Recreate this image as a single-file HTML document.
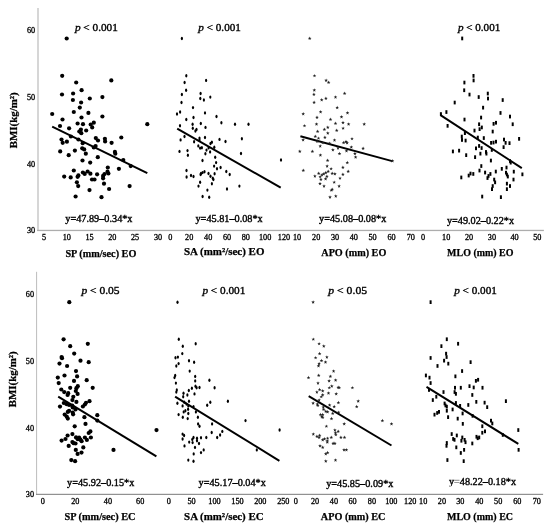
<!DOCTYPE html>
<html><head><meta charset="utf-8"><title>BMI scatter plots</title>
<style>
html,body{margin:0;padding:0;background:#fff;}
svg{display:block;}
text{font-family:"Liberation Serif",serif;fill:#000;}
text.tk{stroke:#000;stroke-width:0.34px;}
text.bd{stroke:#000;stroke-width:0.25px;}
</style></head><body>
<svg width="550" height="529" viewBox="0 0 550 529">
<defs>
<path id="st" fill="#222" d="M0-1.9L0.47-0.65L1.81-0.59L0.76 0.25L1.12 1.54L0 0.8L-1.12 1.54L-0.76 0.25L-1.81-0.59L-0.47-0.65Z"/>
<ellipse id="di" cx="0" cy="0" rx="1.1" ry="1.7" fill="#000"/>
<clipPath id="cy"><rect x="440" y="470" width="90" height="16.3"/></clipPath>
</defs>
<rect width="550" height="529" fill="#fff"/>
<rect x="37.1" y="8" width="1.8" height="223" fill="#d2d2d2"/>
<rect x="37.1" y="229.8" width="506.8" height="1.3" fill="#adadad"/>
<rect x="36" y="271.8" width="1.1" height="223" fill="#c2c2c2"/>
<rect x="36" y="493.8" width="507.1" height="1.1" fill="#858585"/>
<text x="35.2" y="233.4" font-size="9.2" text-anchor="end" textLength="8.2" lengthAdjust="spacingAndGlyphs" class="tk">30</text>
<text x="35.2" y="166.6" font-size="9.2" text-anchor="end" textLength="8.2" lengthAdjust="spacingAndGlyphs" class="tk">40</text>
<text x="35.2" y="99.8" font-size="9.2" text-anchor="end" textLength="8.2" lengthAdjust="spacingAndGlyphs" class="tk">50</text>
<text x="35.2" y="33.0" font-size="9.2" text-anchor="end" textLength="8.2" lengthAdjust="spacingAndGlyphs" class="tk">60</text>
<text x="34.0" y="497.3" font-size="9.2" text-anchor="end" textLength="8.2" lengthAdjust="spacingAndGlyphs" class="tk">30</text>
<text x="34.0" y="430.5" font-size="9.2" text-anchor="end" textLength="8.2" lengthAdjust="spacingAndGlyphs" class="tk">40</text>
<text x="34.0" y="363.7" font-size="9.2" text-anchor="end" textLength="8.2" lengthAdjust="spacingAndGlyphs" class="tk">50</text>
<text x="34.0" y="296.9" font-size="9.2" text-anchor="end" textLength="8.2" lengthAdjust="spacingAndGlyphs" class="tk">60</text>
<text transform="translate(17,120.3) rotate(-90)" font-size="11" font-weight="bold" class="bd" text-anchor="middle" textLength="56" lengthAdjust="spacingAndGlyphs">BMI(kg/m²)</text>
<text transform="translate(15.6,379.3) rotate(-90)" font-size="11" font-weight="bold" class="bd" text-anchor="middle" textLength="56" lengthAdjust="spacingAndGlyphs">BMI(kg/m²)</text>
<text x="44" y="239.9" font-size="9.2" text-anchor="middle" textLength="4.1" lengthAdjust="spacingAndGlyphs" class="tk">5</text>
<text x="66.8" y="239.9" font-size="9.2" text-anchor="middle" textLength="8.2" lengthAdjust="spacingAndGlyphs" class="tk">10</text>
<text x="89.5" y="239.9" font-size="9.2" text-anchor="middle" textLength="8.2" lengthAdjust="spacingAndGlyphs" class="tk">15</text>
<text x="112.3" y="239.9" font-size="9.2" text-anchor="middle" textLength="8.2" lengthAdjust="spacingAndGlyphs" class="tk">20</text>
<text x="135.1" y="239.9" font-size="9.2" text-anchor="middle" textLength="8.2" lengthAdjust="spacingAndGlyphs" class="tk">25</text>
<text x="158" y="239.9" font-size="9.2" text-anchor="middle" textLength="8.2" lengthAdjust="spacingAndGlyphs" class="tk">30</text>
<text x="170.2" y="239.9" font-size="9.2" text-anchor="middle" textLength="4.1" lengthAdjust="spacingAndGlyphs" class="tk">0</text>
<text x="189.2" y="239.9" font-size="9.2" text-anchor="middle" textLength="8.2" lengthAdjust="spacingAndGlyphs" class="tk">20</text>
<text x="208.2" y="239.9" font-size="9.2" text-anchor="middle" textLength="8.2" lengthAdjust="spacingAndGlyphs" class="tk">40</text>
<text x="227.1" y="239.9" font-size="9.2" text-anchor="middle" textLength="8.2" lengthAdjust="spacingAndGlyphs" class="tk">60</text>
<text x="245.8" y="239.9" font-size="9.2" text-anchor="middle" textLength="8.2" lengthAdjust="spacingAndGlyphs" class="tk">80</text>
<text x="265.1" y="239.9" font-size="9.2" text-anchor="middle" textLength="12.3" lengthAdjust="spacingAndGlyphs" class="tk">100</text>
<text x="284" y="239.9" font-size="9.2" text-anchor="middle" textLength="12.3" lengthAdjust="spacingAndGlyphs" class="tk">120</text>
<text x="297" y="239.9" font-size="9.2" text-anchor="middle" textLength="8.2" lengthAdjust="spacingAndGlyphs" class="tk">10</text>
<text x="316.2" y="239.9" font-size="9.2" text-anchor="middle" textLength="8.2" lengthAdjust="spacingAndGlyphs" class="tk">20</text>
<text x="335" y="239.9" font-size="9.2" text-anchor="middle" textLength="8.2" lengthAdjust="spacingAndGlyphs" class="tk">30</text>
<text x="353.8" y="239.9" font-size="9.2" text-anchor="middle" textLength="8.2" lengthAdjust="spacingAndGlyphs" class="tk">40</text>
<text x="372.6" y="239.9" font-size="9.2" text-anchor="middle" textLength="8.2" lengthAdjust="spacingAndGlyphs" class="tk">50</text>
<text x="391.5" y="239.9" font-size="9.2" text-anchor="middle" textLength="8.2" lengthAdjust="spacingAndGlyphs" class="tk">60</text>
<text x="410.8" y="239.9" font-size="9.2" text-anchor="middle" textLength="8.2" lengthAdjust="spacingAndGlyphs" class="tk">70</text>
<text x="423.1" y="239.9" font-size="9.2" text-anchor="middle" textLength="4.1" lengthAdjust="spacingAndGlyphs" class="tk">0</text>
<text x="446.2" y="239.9" font-size="9.2" text-anchor="middle" textLength="8.2" lengthAdjust="spacingAndGlyphs" class="tk">10</text>
<text x="469.1" y="239.9" font-size="9.2" text-anchor="middle" textLength="8.2" lengthAdjust="spacingAndGlyphs" class="tk">20</text>
<text x="491.9" y="239.9" font-size="9.2" text-anchor="middle" textLength="8.2" lengthAdjust="spacingAndGlyphs" class="tk">30</text>
<text x="514.5" y="239.9" font-size="9.2" text-anchor="middle" textLength="8.2" lengthAdjust="spacingAndGlyphs" class="tk">40</text>
<text x="537.3" y="239.9" font-size="9.2" text-anchor="middle" textLength="8.2" lengthAdjust="spacingAndGlyphs" class="tk">50</text>
<text x="42.9" y="503.9" font-size="9.2" text-anchor="middle" textLength="4.1" lengthAdjust="spacingAndGlyphs" class="tk">0</text>
<text x="75.3" y="503.9" font-size="9.2" text-anchor="middle" textLength="8.2" lengthAdjust="spacingAndGlyphs" class="tk">20</text>
<text x="107.9" y="503.9" font-size="9.2" text-anchor="middle" textLength="8.2" lengthAdjust="spacingAndGlyphs" class="tk">40</text>
<text x="140.2" y="503.9" font-size="9.2" text-anchor="middle" textLength="8.2" lengthAdjust="spacingAndGlyphs" class="tk">60</text>
<text x="168.9" y="503.9" font-size="9.2" text-anchor="middle" textLength="4.1" lengthAdjust="spacingAndGlyphs" class="tk">0</text>
<text x="191.6" y="503.9" font-size="9.2" text-anchor="middle" textLength="8.2" lengthAdjust="spacingAndGlyphs" class="tk">50</text>
<text x="214.5" y="503.9" font-size="9.2" text-anchor="middle" textLength="12.3" lengthAdjust="spacingAndGlyphs" class="tk">100</text>
<text x="237.5" y="503.9" font-size="9.2" text-anchor="middle" textLength="12.3" lengthAdjust="spacingAndGlyphs" class="tk">150</text>
<text x="260.3" y="503.9" font-size="9.2" text-anchor="middle" textLength="12.3" lengthAdjust="spacingAndGlyphs" class="tk">200</text>
<text x="283.3" y="503.9" font-size="9.2" text-anchor="middle" textLength="12.3" lengthAdjust="spacingAndGlyphs" class="tk">250</text>
<text x="295.7" y="503.9" font-size="9.2" text-anchor="middle" textLength="4.1" lengthAdjust="spacingAndGlyphs" class="tk">0</text>
<text x="315" y="503.9" font-size="9.2" text-anchor="middle" textLength="8.2" lengthAdjust="spacingAndGlyphs" class="tk">20</text>
<text x="333.9" y="503.9" font-size="9.2" text-anchor="middle" textLength="8.2" lengthAdjust="spacingAndGlyphs" class="tk">40</text>
<text x="352.6" y="503.9" font-size="9.2" text-anchor="middle" textLength="8.2" lengthAdjust="spacingAndGlyphs" class="tk">60</text>
<text x="371.9" y="503.9" font-size="9.2" text-anchor="middle" textLength="8.2" lengthAdjust="spacingAndGlyphs" class="tk">80</text>
<text x="391.3" y="503.9" font-size="9.2" text-anchor="middle" textLength="12.3" lengthAdjust="spacingAndGlyphs" class="tk">100</text>
<text x="410.2" y="503.9" font-size="9.2" text-anchor="middle" textLength="12.3" lengthAdjust="spacingAndGlyphs" class="tk">120</text>
<text x="423.2" y="503.9" font-size="9.2" text-anchor="middle" textLength="8.2" lengthAdjust="spacingAndGlyphs" class="tk">10</text>
<text x="441.9" y="503.9" font-size="9.2" text-anchor="middle" textLength="8.2" lengthAdjust="spacingAndGlyphs" class="tk">20</text>
<text x="460.3" y="503.9" font-size="9.2" text-anchor="middle" textLength="8.2" lengthAdjust="spacingAndGlyphs" class="tk">30</text>
<text x="479.3" y="503.9" font-size="9.2" text-anchor="middle" textLength="8.2" lengthAdjust="spacingAndGlyphs" class="tk">40</text>
<text x="498.2" y="503.9" font-size="9.2" text-anchor="middle" textLength="8.2" lengthAdjust="spacingAndGlyphs" class="tk">50</text>
<text x="517.3" y="503.9" font-size="9.2" text-anchor="middle" textLength="8.2" lengthAdjust="spacingAndGlyphs" class="tk">60</text>
<text x="536.8" y="503.9" font-size="9.2" text-anchor="middle" textLength="8.2" lengthAdjust="spacingAndGlyphs" class="tk">70</text>
<text x="100.9" y="256.6" font-size="10.5" text-anchor="middle" font-weight="bold" textLength="71.0" lengthAdjust="spacingAndGlyphs" class="bd">SP (mm/sec) EO</text>
<text x="224.2" y="255.2" font-size="10.5" text-anchor="middle" font-weight="bold" textLength="80.5" lengthAdjust="spacingAndGlyphs" class="bd">SA (mm²/sec) EO</text>
<text x="353.8" y="256.3" font-size="10.5" text-anchor="middle" font-weight="bold" textLength="65.0" lengthAdjust="spacingAndGlyphs" class="bd">APO (mm) EO</text>
<text x="480.3" y="256.3" font-size="10.5" text-anchor="middle" font-weight="bold" textLength="66.4" lengthAdjust="spacingAndGlyphs" class="bd">MLO (mm) EO</text>
<text x="100" y="519.8" font-size="10.5" text-anchor="middle" font-weight="bold" textLength="71.0" lengthAdjust="spacingAndGlyphs" class="bd">SP (mm/sec) EC</text>
<text x="223.8" y="519.6" font-size="10.5" text-anchor="middle" font-weight="bold" textLength="79.4" lengthAdjust="spacingAndGlyphs" class="bd">SA (mm²/sec) EC</text>
<text x="353.1" y="520" font-size="10.5" text-anchor="middle" font-weight="bold" textLength="64.6" lengthAdjust="spacingAndGlyphs" class="bd">APO (mm) EC</text>
<text x="480" y="520" font-size="10.5" text-anchor="middle" font-weight="bold" textLength="66.0" lengthAdjust="spacingAndGlyphs" class="bd">MLO (mm) EC</text>
<text x="98.9" y="222.2" font-size="9.3" text-anchor="middle" textLength="67.2" lengthAdjust="spacingAndGlyphs" class="tk">y=47.89–0.34*x</text>
<text x="229.1" y="222.0" font-size="9.3" text-anchor="middle" textLength="67.2" lengthAdjust="spacingAndGlyphs" class="tk">y=45.81–0.08*x</text>
<text x="352.7" y="222.0" font-size="9.3" text-anchor="middle" textLength="67.2" lengthAdjust="spacingAndGlyphs" class="tk">y=45.08–0.08*x</text>
<text x="480.5" y="223.6" font-size="9.6" text-anchor="middle" textLength="67.2" lengthAdjust="spacingAndGlyphs" class="tk">y=49.02–0.22*x</text>
<text x="100.7" y="486.4" font-size="9.3" text-anchor="middle" textLength="67.2" lengthAdjust="spacingAndGlyphs" class="tk">y=45.92–0.15*x</text>
<text x="232.2" y="486.2" font-size="9.3" text-anchor="middle" textLength="67.2" lengthAdjust="spacingAndGlyphs" class="tk">y=45.17–0.04*x</text>
<text x="359.8" y="486.8" font-size="9.3" text-anchor="middle" textLength="67.2" lengthAdjust="spacingAndGlyphs" class="tk">y=45.85–0.09*x</text>
<text x="482.5" y="484.7" font-size="9.3" text-anchor="middle" textLength="67.2" lengthAdjust="spacingAndGlyphs" class="tk" clip-path="url(#cy)">y<tspan fill="#9a9a9a" stroke="#9a9a9a">=</tspan>48.22–0.18*x</text>
<text x="96.4" y="30.7" font-size="10.4" text-anchor="middle" textLength="43" lengthAdjust="spacingAndGlyphs" class="tk"><tspan font-style="italic">p</tspan> &lt; 0.001</text>
<text x="219.6" y="30.5" font-size="10.4" text-anchor="middle" textLength="42.6" lengthAdjust="spacingAndGlyphs" class="tk"><tspan font-style="italic">p</tspan> &lt; 0.001</text>
<text x="479.1" y="30.5" font-size="10.4" text-anchor="middle" textLength="42.4" lengthAdjust="spacingAndGlyphs" class="tk"><tspan font-style="italic">p</tspan> &lt; 0.001</text>
<text x="100.5" y="293.8" font-size="10.4" text-anchor="middle" textLength="38.2" lengthAdjust="spacingAndGlyphs" class="tk"><tspan font-style="italic">p</tspan> &lt; 0.05</text>
<text x="223.9" y="293.8" font-size="10.4" text-anchor="middle" textLength="43" lengthAdjust="spacingAndGlyphs" class="tk"><tspan font-style="italic">p</tspan> &lt; 0.001</text>
<text x="347.7" y="293.8" font-size="10.4" text-anchor="middle" textLength="38.8" lengthAdjust="spacingAndGlyphs" class="tk"><tspan font-style="italic">p</tspan> &lt; 0.05</text>
<text x="475.5" y="293.8" font-size="10.4" text-anchor="middle" textLength="42.7" lengthAdjust="spacingAndGlyphs" class="tk"><tspan font-style="italic">p</tspan> &lt; 0.001</text>
<line x1="52.2" y1="126.6" x2="147.3" y2="173.1" stroke="#000" stroke-width="2"/>
<line x1="177.2" y1="128.6" x2="280.7" y2="187.7" stroke="#000" stroke-width="2"/>
<line x1="300.4" y1="136.3" x2="392.2" y2="161.1" stroke="#000" stroke-width="2"/>
<line x1="440.5" y1="115.2" x2="521.8" y2="168.1" stroke="#000" stroke-width="2"/>
<line x1="58.2" y1="396.6" x2="156.4" y2="456.3" stroke="#000" stroke-width="2"/>
<line x1="175.1" y1="396.6" x2="279.4" y2="460.8" stroke="#000" stroke-width="2"/>
<line x1="308.7" y1="396.1" x2="391.5" y2="445.5" stroke="#000" stroke-width="2"/>
<line x1="426.5" y1="386.8" x2="518.3" y2="443.9" stroke="#000" stroke-width="2"/>
<circle cx="66.7" cy="38.5" r="2.1"/>
<circle cx="62.2" cy="75.8" r="2.1"/>
<circle cx="111.3" cy="80.4" r="2.1"/>
<circle cx="76.2" cy="82.5" r="2.1"/>
<circle cx="81.6" cy="90.2" r="2.1"/>
<circle cx="73.1" cy="93.5" r="2.1"/>
<circle cx="62" cy="94.5" r="2.1"/>
<circle cx="102.4" cy="97.1" r="2.1"/>
<circle cx="89.8" cy="98.5" r="2.1"/>
<circle cx="72.9" cy="100" r="2.1"/>
<circle cx="81.1" cy="102.5" r="2.1"/>
<circle cx="79.8" cy="107.6" r="2.1"/>
<circle cx="73.8" cy="112" r="2.1"/>
<circle cx="88.4" cy="112.9" r="2.1"/>
<circle cx="52.2" cy="114" r="2.1"/>
<circle cx="102.4" cy="116.5" r="2.1"/>
<circle cx="81.5" cy="117.5" r="2.1"/>
<circle cx="62.5" cy="119.5" r="2.1"/>
<circle cx="93.8" cy="122.7" r="2.1"/>
<circle cx="77.6" cy="123.5" r="2.1"/>
<circle cx="83" cy="124.2" r="2.1"/>
<circle cx="90.7" cy="124.5" r="2.1"/>
<circle cx="60" cy="126" r="2.1"/>
<circle cx="92.2" cy="127.4" r="2.1"/>
<circle cx="69.1" cy="128.3" r="2.1"/>
<circle cx="80.9" cy="129.5" r="2.1"/>
<circle cx="86.2" cy="130.5" r="2.1"/>
<circle cx="79.3" cy="131.5" r="2.1"/>
<circle cx="81.3" cy="133.2" r="2.1"/>
<circle cx="70.9" cy="136.5" r="2.1"/>
<circle cx="121.3" cy="137.5" r="2.1"/>
<circle cx="95.8" cy="138.1" r="2.1"/>
<circle cx="61.5" cy="139.5" r="2.1"/>
<circle cx="104.9" cy="138.8" r="2.1"/>
<circle cx="78.4" cy="139.5" r="2.1"/>
<circle cx="98" cy="140.5" r="2.1"/>
<circle cx="105.1" cy="141.4" r="2.1"/>
<circle cx="66.9" cy="141.7" r="2.1"/>
<circle cx="62.7" cy="142.8" r="2.1"/>
<circle cx="111.6" cy="142.8" r="2.1"/>
<circle cx="82.7" cy="143.2" r="2.1"/>
<circle cx="95.6" cy="146.1" r="2.1"/>
<circle cx="93.8" cy="147.5" r="2.1"/>
<circle cx="82.2" cy="148.3" r="2.1"/>
<circle cx="84.2" cy="149.4" r="2.1"/>
<circle cx="74.9" cy="150.6" r="2.1"/>
<circle cx="60.2" cy="151.4" r="2.1"/>
<circle cx="114.9" cy="151.9" r="2.1"/>
<circle cx="115.3" cy="153.7" r="2.1"/>
<circle cx="85.8" cy="153.7" r="2.1"/>
<circle cx="68.7" cy="155.2" r="2.1"/>
<circle cx="97.8" cy="157.2" r="2.1"/>
<circle cx="82.5" cy="160.5" r="2.1"/>
<circle cx="123.3" cy="160.1" r="2.1"/>
<circle cx="90.2" cy="162.6" r="2.1"/>
<circle cx="130.7" cy="166.1" r="2.1"/>
<circle cx="107.8" cy="167.5" r="2.1"/>
<circle cx="118.9" cy="168.8" r="2.1"/>
<circle cx="73.8" cy="170.5" r="2.1"/>
<circle cx="87.6" cy="171.5" r="2.1"/>
<circle cx="82.9" cy="172.5" r="2.1"/>
<circle cx="107.5" cy="171.7" r="2.1"/>
<circle cx="108.4" cy="173.5" r="2.1"/>
<circle cx="84.7" cy="173.9" r="2.1"/>
<circle cx="90.4" cy="173.7" r="2.1"/>
<circle cx="97.1" cy="174.3" r="2.1"/>
<circle cx="104.5" cy="174.1" r="2.1"/>
<circle cx="78.4" cy="175.4" r="2.1"/>
<circle cx="103.1" cy="175.9" r="2.1"/>
<circle cx="64.2" cy="176.6" r="2.1"/>
<circle cx="70.7" cy="177.4" r="2.1"/>
<circle cx="77.6" cy="176.8" r="2.1"/>
<circle cx="103.1" cy="178.3" r="2.1"/>
<circle cx="92" cy="179.5" r="2.1"/>
<circle cx="94.5" cy="179.5" r="2.1"/>
<circle cx="76.9" cy="182.3" r="2.1"/>
<circle cx="104" cy="183.7" r="2.1"/>
<circle cx="78.2" cy="186.1" r="2.1"/>
<circle cx="129.6" cy="186.1" r="2.1"/>
<circle cx="109.1" cy="189" r="2.1"/>
<circle cx="89.5" cy="190.1" r="2.1"/>
<circle cx="75.6" cy="196.5" r="2.1"/>
<circle cx="101.5" cy="197.2" r="2.1"/>
<circle cx="147.3" cy="124.2" r="2.1"/>
<circle cx="69.3" cy="302.2" r="2.1"/>
<circle cx="63.6" cy="339.3" r="2.1"/>
<circle cx="87.8" cy="343.8" r="2.1"/>
<circle cx="70.2" cy="346.2" r="2.1"/>
<circle cx="74.2" cy="353.6" r="2.1"/>
<circle cx="61.6" cy="357.1" r="2.1"/>
<circle cx="62" cy="358.2" r="2.1"/>
<circle cx="80.5" cy="360.7" r="2.1"/>
<circle cx="88.7" cy="362.2" r="2.1"/>
<circle cx="59.5" cy="363.6" r="2.1"/>
<circle cx="67.1" cy="366" r="2.1"/>
<circle cx="76" cy="371.1" r="2.1"/>
<circle cx="64.5" cy="375.5" r="2.1"/>
<circle cx="77.1" cy="376.4" r="2.1"/>
<circle cx="57.8" cy="377.6" r="2.1"/>
<circle cx="86.7" cy="380.2" r="2.1"/>
<circle cx="74" cy="380.9" r="2.1"/>
<circle cx="58.7" cy="383.1" r="2.1"/>
<circle cx="77.8" cy="386.2" r="2.1"/>
<circle cx="92.7" cy="387.8" r="2.1"/>
<circle cx="70.2" cy="387.8" r="2.1"/>
<circle cx="76.4" cy="388.2" r="2.1"/>
<circle cx="61.3" cy="389.5" r="2.1"/>
<circle cx="75.8" cy="391" r="2.1"/>
<circle cx="64.2" cy="392.1" r="2.1"/>
<circle cx="68.2" cy="393.2" r="2.1"/>
<circle cx="77.6" cy="393.9" r="2.1"/>
<circle cx="67.6" cy="395" r="2.1"/>
<circle cx="73.3" cy="396.8" r="2.1"/>
<circle cx="72.4" cy="400.1" r="2.1"/>
<circle cx="89.5" cy="401.2" r="2.1"/>
<circle cx="76.4" cy="401.9" r="2.1"/>
<circle cx="63.8" cy="403" r="2.1"/>
<circle cx="86" cy="402.8" r="2.1"/>
<circle cx="66.4" cy="404.1" r="2.1"/>
<circle cx="84.9" cy="404.5" r="2.1"/>
<circle cx="69.1" cy="405" r="2.1"/>
<circle cx="72.2" cy="405.5" r="2.1"/>
<circle cx="60" cy="406.6" r="2.1"/>
<circle cx="82.9" cy="406.5" r="2.1"/>
<circle cx="72.7" cy="407.4" r="2.1"/>
<circle cx="75.5" cy="409.5" r="2.1"/>
<circle cx="69.1" cy="410.8" r="2.1"/>
<circle cx="67.8" cy="411.9" r="2.1"/>
<circle cx="72.7" cy="412.5" r="2.1"/>
<circle cx="73.1" cy="414.3" r="2.1"/>
<circle cx="64.7" cy="414.6" r="2.1"/>
<circle cx="97.3" cy="415.2" r="2.1"/>
<circle cx="66.7" cy="416.6" r="2.1"/>
<circle cx="84.4" cy="417.2" r="2.1"/>
<circle cx="67.8" cy="418.6" r="2.1"/>
<circle cx="97.3" cy="420.6" r="2.1"/>
<circle cx="85.5" cy="423.9" r="2.1"/>
<circle cx="74.7" cy="426.3" r="2.1"/>
<circle cx="90.4" cy="431.4" r="2.1"/>
<circle cx="88.7" cy="433" r="2.1"/>
<circle cx="72.4" cy="434.1" r="2.1"/>
<circle cx="67.6" cy="435.5" r="2.1"/>
<circle cx="76" cy="437.4" r="2.1"/>
<circle cx="90.9" cy="437.5" r="2.1"/>
<circle cx="79.1" cy="437.5" r="2.1"/>
<circle cx="84.9" cy="437.5" r="2.1"/>
<circle cx="65.5" cy="439" r="2.1"/>
<circle cx="77.8" cy="439.2" r="2.1"/>
<circle cx="80.4" cy="439.7" r="2.1"/>
<circle cx="86.9" cy="439.9" r="2.1"/>
<circle cx="61.6" cy="440.6" r="2.1"/>
<circle cx="81.6" cy="441.2" r="2.1"/>
<circle cx="72.4" cy="442.1" r="2.1"/>
<circle cx="73.6" cy="443.2" r="2.1"/>
<circle cx="75.5" cy="443.5" r="2.1"/>
<circle cx="68.7" cy="445.9" r="2.1"/>
<circle cx="83.3" cy="447.4" r="2.1"/>
<circle cx="75.8" cy="449.9" r="2.1"/>
<circle cx="113.5" cy="449.9" r="2.1"/>
<circle cx="81.5" cy="452.6" r="2.1"/>
<circle cx="77.6" cy="453.9" r="2.1"/>
<circle cx="71.3" cy="460.1" r="2.1"/>
<circle cx="75.1" cy="461.2" r="2.1"/>
<circle cx="156.5" cy="430.1" r="2.1"/>
<use href="#di" x="181.9" y="38.5"/>
<use href="#di" x="186.3" y="75.8"/>
<use href="#di" x="206.1" y="80.4"/>
<use href="#di" x="184.6" y="82.5"/>
<use href="#di" x="186.1" y="90.2"/>
<use href="#di" x="200.6" y="93.5"/>
<use href="#di" x="181.9" y="94.5"/>
<use href="#di" x="210.3" y="97.1"/>
<use href="#di" x="200.3" y="98.5"/>
<use href="#di" x="203.9" y="100"/>
<use href="#di" x="181.5" y="102.5"/>
<use href="#di" x="193" y="107.6"/>
<use href="#di" x="180.1" y="112"/>
<use href="#di" x="205" y="112.9"/>
<use href="#di" x="177" y="114"/>
<use href="#di" x="216.5" y="116.5"/>
<use href="#di" x="193.5" y="117.5"/>
<use href="#di" x="186.3" y="119.5"/>
<use href="#di" x="221.4" y="122.7"/>
<use href="#di" x="200.8" y="123.5"/>
<use href="#di" x="192.6" y="124.2"/>
<use href="#di" x="235" y="124.2"/>
<use href="#di" x="248.5" y="124.2"/>
<use href="#di" x="180" y="125.8"/>
<use href="#di" x="205.5" y="127.4"/>
<use href="#di" x="192.8" y="128.3"/>
<use href="#di" x="196.5" y="129.5"/>
<use href="#di" x="195.4" y="131"/>
<use href="#di" x="184.5" y="136.5"/>
<use href="#di" x="205" y="137.5"/>
<use href="#di" x="199.5" y="138.1"/>
<use href="#di" x="241.9" y="138.8"/>
<use href="#di" x="219.5" y="139.4"/>
<use href="#di" x="180.6" y="139.9"/>
<use href="#di" x="199.5" y="140.1"/>
<use href="#di" x="225.5" y="141.5"/>
<use href="#di" x="194.1" y="141.7"/>
<use href="#di" x="211.9" y="142.3"/>
<use href="#di" x="210.5" y="143.5"/>
<use href="#di" x="198.3" y="145.9"/>
<use href="#di" x="214.3" y="147.2"/>
<use href="#di" x="200.1" y="148.1"/>
<use href="#di" x="201.9" y="147.7"/>
<use href="#di" x="208.6" y="147.9"/>
<use href="#di" x="206.5" y="150.1"/>
<use href="#di" x="179.5" y="151.4"/>
<use href="#di" x="187.5" y="150.6"/>
<use href="#di" x="210.1" y="151.9"/>
<use href="#di" x="205.4" y="153.7"/>
<use href="#di" x="241" y="153.5"/>
<use href="#di" x="187.9" y="155.2"/>
<use href="#di" x="215.2" y="157.2"/>
<use href="#di" x="202.5" y="160.5"/>
<use href="#di" x="216.1" y="162.6"/>
<use href="#di" x="214.1" y="166.1"/>
<use href="#di" x="220.6" y="167.5"/>
<use href="#di" x="217" y="168.8"/>
<use href="#di" x="186.5" y="170.5"/>
<use href="#di" x="226.3" y="171.5"/>
<use href="#di" x="204.5" y="171.7"/>
<use href="#di" x="202.6" y="172.6"/>
<use href="#di" x="201" y="173.5"/>
<use href="#di" x="200.6" y="174.5"/>
<use href="#di" x="208.5" y="173.5"/>
<use href="#di" x="214.6" y="173.7"/>
<use href="#di" x="229.7" y="174.5"/>
<use href="#di" x="191" y="175.5"/>
<use href="#di" x="193.5" y="176.5"/>
<use href="#di" x="186.6" y="177"/>
<use href="#di" x="210.5" y="176.3"/>
<use href="#di" x="212.8" y="178.3"/>
<use href="#di" x="213.4" y="179.5"/>
<use href="#di" x="200.1" y="182.3"/>
<use href="#di" x="211.9" y="183.7"/>
<use href="#di" x="198.5" y="186.1"/>
<use href="#di" x="239.4" y="186.1"/>
<use href="#di" x="227" y="189"/>
<use href="#di" x="207.4" y="190.1"/>
<use href="#di" x="202.6" y="196.5"/>
<use href="#di" x="209.2" y="197.2"/>
<use href="#di" x="281" y="160"/>
<use href="#di" x="177.5" y="302.2"/>
<use href="#di" x="178.8" y="339.3"/>
<use href="#di" x="195.7" y="343.8"/>
<use href="#di" x="182.8" y="346.2"/>
<use href="#di" x="182.3" y="353.6"/>
<use href="#di" x="175.5" y="357.8"/>
<use href="#di" x="177.9" y="357.1"/>
<use href="#di" x="189" y="360.7"/>
<use href="#di" x="194.1" y="362.2"/>
<use href="#di" x="178.6" y="363.6"/>
<use href="#di" x="176.3" y="366"/>
<use href="#di" x="189.7" y="371.1"/>
<use href="#di" x="175.2" y="375.5"/>
<use href="#di" x="195.2" y="376.4"/>
<use href="#di" x="174.5" y="377.6"/>
<use href="#di" x="209.4" y="380.2"/>
<use href="#di" x="195.2" y="380.9"/>
<use href="#di" x="175.9" y="383.1"/>
<use href="#di" x="195.5" y="386.2"/>
<use href="#di" x="199.5" y="387.5"/>
<use href="#di" x="196.6" y="387.8"/>
<use href="#di" x="214.6" y="387.8"/>
<use href="#di" x="191.9" y="388.2"/>
<use href="#di" x="188.8" y="390.5"/>
<use href="#di" x="176.8" y="390"/>
<use href="#di" x="176.3" y="392.1"/>
<use href="#di" x="183.5" y="393.2"/>
<use href="#di" x="194.5" y="393.9"/>
<use href="#di" x="187.4" y="395"/>
<use href="#di" x="183.2" y="396.8"/>
<use href="#di" x="189" y="401.2"/>
<use href="#di" x="227.9" y="401.2"/>
<use href="#di" x="210.3" y="402.3"/>
<use href="#di" x="184.3" y="402.3"/>
<use href="#di" x="177.4" y="403.2"/>
<use href="#di" x="186.5" y="404.1"/>
<use href="#di" x="207.2" y="405.2"/>
<use href="#di" x="182.6" y="405.9"/>
<use href="#di" x="188.3" y="405.9"/>
<use href="#di" x="193.5" y="406.6"/>
<use href="#di" x="188.1" y="409.2"/>
<use href="#di" x="185.4" y="410.8"/>
<use href="#di" x="183.7" y="411.9"/>
<use href="#di" x="195.9" y="411.9"/>
<use href="#di" x="188.3" y="413.5"/>
<use href="#di" x="178.6" y="414.6"/>
<use href="#di" x="182.8" y="417.2"/>
<use href="#di" x="197.9" y="417.2"/>
<use href="#di" x="187.7" y="418.6"/>
<use href="#di" x="245.5" y="420.6"/>
<use href="#di" x="212.1" y="423.9"/>
<use href="#di" x="198.1" y="423.9"/>
<use href="#di" x="199.5" y="426.3"/>
<use href="#di" x="222.3" y="431.4"/>
<use href="#di" x="211.7" y="432.5"/>
<use href="#di" x="182.6" y="434.1"/>
<use href="#di" x="184.1" y="435.5"/>
<use href="#di" x="220.1" y="435"/>
<use href="#di" x="217.2" y="437.5"/>
<use href="#di" x="206.3" y="437.5"/>
<use href="#di" x="201" y="437.7"/>
<use href="#di" x="193.5" y="437.5"/>
<use href="#di" x="197" y="438.3"/>
<use href="#di" x="182.6" y="439"/>
<use href="#di" x="192.3" y="439.4"/>
<use href="#di" x="197" y="440.8"/>
<use href="#di" x="189.2" y="442.1"/>
<use href="#di" x="192.6" y="442.6"/>
<use href="#di" x="199" y="443.5"/>
<use href="#di" x="184.5" y="445.9"/>
<use href="#di" x="195" y="447.4"/>
<use href="#di" x="203.7" y="449.9"/>
<use href="#di" x="256.8" y="449.9"/>
<use href="#di" x="201" y="452.6"/>
<use href="#di" x="193.7" y="453.9"/>
<use href="#di" x="188.3" y="460.1"/>
<use href="#di" x="193.5" y="461.2"/>
<use href="#di" x="279.6" y="430"/>
<use href="#st" x="309.7" y="38.5"/>
<use href="#st" x="314.5" y="75.8"/>
<use href="#st" x="326.1" y="80.4"/>
<use href="#st" x="328.6" y="82.5"/>
<use href="#st" x="314.3" y="90.2"/>
<use href="#st" x="344.6" y="93.5"/>
<use href="#st" x="313.9" y="94.5"/>
<use href="#st" x="335.5" y="97.1"/>
<use href="#st" x="325.9" y="98.5"/>
<use href="#st" x="321.7" y="100"/>
<use href="#st" x="314.1" y="102.5"/>
<use href="#st" x="337.2" y="107.6"/>
<use href="#st" x="320.6" y="112"/>
<use href="#st" x="347.5" y="112.9"/>
<use href="#st" x="303.2" y="114"/>
<use href="#st" x="341.5" y="116.9"/>
<use href="#st" x="317" y="117.5"/>
<use href="#st" x="330.5" y="119.5"/>
<use href="#st" x="343" y="122.7"/>
<use href="#st" x="335.5" y="123.5"/>
<use href="#st" x="348.6" y="124.2"/>
<use href="#st" x="316.5" y="124.2"/>
<use href="#st" x="304.5" y="125.8"/>
<use href="#st" x="364.2" y="124.2"/>
<use href="#st" x="327.8" y="127.4"/>
<use href="#st" x="343.1" y="128.3"/>
<use href="#st" x="324.4" y="129.5"/>
<use href="#st" x="336.7" y="130.5"/>
<use href="#st" x="317.6" y="131.5"/>
<use href="#st" x="327.8" y="133.2"/>
<use href="#st" x="315.3" y="136.5"/>
<use href="#st" x="324.9" y="137.5"/>
<use href="#st" x="318.5" y="138.3"/>
<use href="#st" x="352" y="138.8"/>
<use href="#st" x="303.1" y="139.9"/>
<use href="#st" x="334.5" y="140.1"/>
<use href="#st" x="317.3" y="141.4"/>
<use href="#st" x="346" y="141.7"/>
<use href="#st" x="343.6" y="142.6"/>
<use href="#st" x="347.1" y="143"/>
<use href="#st" x="322.7" y="142.8"/>
<use href="#st" x="329.6" y="143.4"/>
<use href="#st" x="320.2" y="146.1"/>
<use href="#st" x="351.3" y="147.2"/>
<use href="#st" x="338" y="148.1"/>
<use href="#st" x="363.1" y="148.5"/>
<use href="#st" x="332.9" y="149.9"/>
<use href="#st" x="299.8" y="151.4"/>
<use href="#st" x="312.4" y="151.5"/>
<use href="#st" x="346.5" y="151"/>
<use href="#st" x="339.5" y="153.7"/>
<use href="#st" x="354.9" y="153.7"/>
<use href="#st" x="320.4" y="155.2"/>
<use href="#st" x="355.6" y="157.2"/>
<use href="#st" x="327.6" y="160.5"/>
<use href="#st" x="347.3" y="162.6"/>
<use href="#st" x="327.1" y="166.1"/>
<use href="#st" x="342.9" y="167.5"/>
<use href="#st" x="331.1" y="168.8"/>
<use href="#st" x="303.3" y="170.5"/>
<use href="#st" x="328.2" y="171.5"/>
<use href="#st" x="348.2" y="171.5"/>
<use href="#st" x="325.8" y="172.6"/>
<use href="#st" x="318.7" y="173.5"/>
<use href="#st" x="323.8" y="173.9"/>
<use href="#st" x="332.2" y="173.5"/>
<use href="#st" x="334.9" y="173.9"/>
<use href="#st" x="342.9" y="174.5"/>
<use href="#st" x="322" y="175"/>
<use href="#st" x="314.9" y="176.1"/>
<use href="#st" x="320.2" y="176.8"/>
<use href="#st" x="326.9" y="176.5"/>
<use href="#st" x="340" y="178.3"/>
<use href="#st" x="320.9" y="179.5"/>
<use href="#st" x="325.6" y="179"/>
<use href="#st" x="334.2" y="182.3"/>
<use href="#st" x="320" y="183.7"/>
<use href="#st" x="324" y="186.1"/>
<use href="#st" x="339.1" y="186.1"/>
<use href="#st" x="332.2" y="189.5"/>
<use href="#st" x="331.3" y="190.3"/>
<use href="#st" x="335.8" y="196.1"/>
<use href="#st" x="330" y="197.2"/>
<use href="#st" x="392.5" y="161"/>
<use href="#st" x="313.1" y="302.2"/>
<use href="#st" x="313.3" y="339.3"/>
<use href="#st" x="319.1" y="343.8"/>
<use href="#st" x="323.8" y="346.2"/>
<use href="#st" x="319.6" y="353.6"/>
<use href="#st" x="326.9" y="357.1"/>
<use href="#st" x="315.6" y="357.8"/>
<use href="#st" x="321.5" y="360.7"/>
<use href="#st" x="325.5" y="362.2"/>
<use href="#st" x="319.1" y="363.6"/>
<use href="#st" x="318.5" y="366"/>
<use href="#st" x="333.6" y="371.1"/>
<use href="#st" x="318.7" y="375.5"/>
<use href="#st" x="330.4" y="376.4"/>
<use href="#st" x="308.5" y="377.6"/>
<use href="#st" x="335.6" y="380.2"/>
<use href="#st" x="329.1" y="380.9"/>
<use href="#st" x="318" y="383.1"/>
<use href="#st" x="331.8" y="386.2"/>
<use href="#st" x="338.2" y="387.5"/>
<use href="#st" x="329.3" y="387.8"/>
<use href="#st" x="339.3" y="387.8"/>
<use href="#st" x="352.4" y="387.8"/>
<use href="#st" x="319.6" y="389.6"/>
<use href="#st" x="322.7" y="391"/>
<use href="#st" x="316.9" y="392.1"/>
<use href="#st" x="328.5" y="393.2"/>
<use href="#st" x="336.2" y="393.9"/>
<use href="#st" x="322.7" y="395"/>
<use href="#st" x="321.3" y="396.8"/>
<use href="#st" x="319.1" y="400.1"/>
<use href="#st" x="358.2" y="401.2"/>
<use href="#st" x="338.4" y="402.6"/>
<use href="#st" x="313.1" y="403.2"/>
<use href="#st" x="317.3" y="404.1"/>
<use href="#st" x="329.6" y="405.2"/>
<use href="#st" x="317.8" y="405.5"/>
<use href="#st" x="356.7" y="406.6"/>
<use href="#st" x="334.2" y="406.6"/>
<use href="#st" x="323.3" y="407.2"/>
<use href="#st" x="323.6" y="409.5"/>
<use href="#st" x="325.8" y="411.4"/>
<use href="#st" x="327.6" y="411.9"/>
<use href="#st" x="338.7" y="412.3"/>
<use href="#st" x="332.7" y="413.5"/>
<use href="#st" x="320.5" y="414.6"/>
<use href="#st" x="322.7" y="414.6"/>
<use href="#st" x="321.8" y="416.6"/>
<use href="#st" x="322.7" y="417.5"/>
<use href="#st" x="331.5" y="418.6"/>
<use href="#st" x="382.4" y="420.6"/>
<use href="#st" x="344.2" y="423.9"/>
<use href="#st" x="326.4" y="426.3"/>
<use href="#st" x="334.9" y="430.1"/>
<use href="#st" x="338.2" y="431.5"/>
<use href="#st" x="335.5" y="433"/>
<use href="#st" x="313.3" y="434.1"/>
<use href="#st" x="335.8" y="434.8"/>
<use href="#st" x="319.6" y="435.5"/>
<use href="#st" x="316.9" y="436.5"/>
<use href="#st" x="319.1" y="437.5"/>
<use href="#st" x="331.3" y="437.5"/>
<use href="#st" x="340.9" y="437.5"/>
<use href="#st" x="344.5" y="437.5"/>
<use href="#st" x="327.6" y="438.3"/>
<use href="#st" x="324.5" y="439"/>
<use href="#st" x="322.7" y="439.9"/>
<use href="#st" x="327.3" y="440.8"/>
<use href="#st" x="327.3" y="442.3"/>
<use href="#st" x="333.1" y="443.5"/>
<use href="#st" x="334.9" y="443.5"/>
<use href="#st" x="320" y="445.9"/>
<use href="#st" x="322.7" y="447.4"/>
<use href="#st" x="344" y="449.9"/>
<use href="#st" x="346.4" y="449.9"/>
<use href="#st" x="327.6" y="452.6"/>
<use href="#st" x="325.8" y="453.9"/>
<use href="#st" x="335.5" y="460.1"/>
<use href="#st" x="325.8" y="461.2"/>
<use href="#st" x="391.5" y="424"/>
<rect x="461.2" y="36.6" width="2" height="3.7"/>
<rect x="472.5" y="74.0" width="2" height="3.7"/>
<rect x="472.6" y="78.6" width="2" height="3.7"/>
<rect x="463.4" y="80.7" width="2" height="3.7"/>
<rect x="463.2" y="88.4" width="2" height="3.7"/>
<rect x="486.8" y="91.7" width="2" height="3.7"/>
<rect x="468.5" y="92.7" width="2" height="3.7"/>
<rect x="477.7" y="95.2" width="2" height="3.7"/>
<rect x="487.0" y="96.7" width="2" height="3.7"/>
<rect x="501.7" y="98.2" width="2" height="3.7"/>
<rect x="453.7" y="100.7" width="2" height="3.7"/>
<rect x="482.1" y="105.8" width="2" height="3.7"/>
<rect x="445.4" y="110.2" width="2" height="3.7"/>
<rect x="499.5" y="111.1" width="2" height="3.7"/>
<rect x="439.9" y="112.2" width="2" height="3.7"/>
<rect x="509.0" y="114.7" width="2" height="3.7"/>
<rect x="480.1" y="115.7" width="2" height="3.7"/>
<rect x="463.5" y="117.7" width="2" height="3.7"/>
<rect x="495.0" y="120.9" width="2" height="3.7"/>
<rect x="492.6" y="122.0" width="2" height="3.7"/>
<rect x="478.1" y="122.4" width="2" height="3.7"/>
<rect x="511.7" y="122.4" width="2" height="3.7"/>
<rect x="446.6" y="124.0" width="2" height="3.7"/>
<rect x="480.8" y="125.6" width="2" height="3.7"/>
<rect x="478.6" y="127.3" width="2" height="3.7"/>
<rect x="473.5" y="128.7" width="2" height="3.7"/>
<rect x="491.7" y="129.7" width="2" height="3.7"/>
<rect x="463.9" y="131.3" width="2" height="3.7"/>
<rect x="460.8" y="134.7" width="2" height="3.7"/>
<rect x="476.8" y="135.7" width="2" height="3.7"/>
<rect x="482.8" y="136.2" width="2" height="3.7"/>
<rect x="518.1" y="137.0" width="2" height="3.7"/>
<rect x="503.0" y="137.7" width="2" height="3.7"/>
<rect x="461.0" y="138.1" width="2" height="3.7"/>
<rect x="464.6" y="138.7" width="2" height="3.7"/>
<rect x="495.0" y="139.8" width="2" height="3.7"/>
<rect x="492.5" y="140.7" width="2" height="3.7"/>
<rect x="490.1" y="141.0" width="2" height="3.7"/>
<rect x="504.6" y="141.0" width="2" height="3.7"/>
<rect x="508.5" y="141.3" width="2" height="3.7"/>
<rect x="478.1" y="144.1" width="2" height="3.7"/>
<rect x="502.6" y="145.3" width="2" height="3.7"/>
<rect x="475.0" y="146.5" width="2" height="3.7"/>
<rect x="480.6" y="146.2" width="2" height="3.7"/>
<rect x="490.8" y="148.1" width="2" height="3.7"/>
<rect x="451.9" y="149.6" width="2" height="3.7"/>
<rect x="458.1" y="148.8" width="2" height="3.7"/>
<rect x="485.0" y="150.1" width="2" height="3.7"/>
<rect x="485.4" y="151.8" width="2" height="3.7"/>
<rect x="479.4" y="151.8" width="2" height="3.7"/>
<rect x="465.2" y="153.3" width="2" height="3.7"/>
<rect x="474.1" y="155.3" width="2" height="3.7"/>
<rect x="489.9" y="158.7" width="2" height="3.7"/>
<rect x="509.0" y="159.2" width="2" height="3.7"/>
<rect x="509.7" y="160.8" width="2" height="3.7"/>
<rect x="480.3" y="164.2" width="2" height="3.7"/>
<rect x="505.5" y="165.7" width="2" height="3.7"/>
<rect x="500.8" y="167.0" width="2" height="3.7"/>
<rect x="478.5" y="168.7" width="2" height="3.7"/>
<rect x="494.8" y="169.7" width="2" height="3.7"/>
<rect x="512.8" y="169.8" width="2" height="3.7"/>
<rect x="484.1" y="170.7" width="2" height="3.7"/>
<rect x="505.0" y="170.8" width="2" height="3.7"/>
<rect x="469.5" y="171.7" width="2" height="3.7"/>
<rect x="472.3" y="172.1" width="2" height="3.7"/>
<rect x="489.4" y="172.1" width="2" height="3.7"/>
<rect x="505.9" y="172.7" width="2" height="3.7"/>
<rect x="521.4" y="172.5" width="2" height="3.7"/>
<rect x="467.7" y="173.7" width="2" height="3.7"/>
<rect x="487.5" y="174.1" width="2" height="3.7"/>
<rect x="506.8" y="174.7" width="2" height="3.7"/>
<rect x="460.3" y="175.6" width="2" height="3.7"/>
<rect x="486.5" y="176.2" width="2" height="3.7"/>
<rect x="493.2" y="177.7" width="2" height="3.7"/>
<rect x="512.5" y="177.7" width="2" height="3.7"/>
<rect x="494.1" y="180.5" width="2" height="3.7"/>
<rect x="505.9" y="181.8" width="2" height="3.7"/>
<rect x="491.7" y="184.2" width="2" height="3.7"/>
<rect x="509.0" y="184.2" width="2" height="3.7"/>
<rect x="491.0" y="187.3" width="2" height="3.7"/>
<rect x="505.9" y="187.3" width="2" height="3.7"/>
<rect x="481.2" y="194.7" width="2" height="3.7"/>
<rect x="499.9" y="195.3" width="2" height="3.7"/>
<rect x="429.6" y="300.3" width="2" height="3.7"/>
<rect x="445.8" y="337.4" width="2" height="3.7"/>
<rect x="457.1" y="341.9" width="2" height="3.7"/>
<rect x="440.4" y="344.3" width="2" height="3.7"/>
<rect x="445.1" y="351.8" width="2" height="3.7"/>
<rect x="445.6" y="355.2" width="2" height="3.7"/>
<rect x="429.6" y="356.1" width="2" height="3.7"/>
<rect x="443.1" y="358.8" width="2" height="3.7"/>
<rect x="469.6" y="360.3" width="2" height="3.7"/>
<rect x="447.3" y="361.8" width="2" height="3.7"/>
<rect x="436.5" y="364.1" width="2" height="3.7"/>
<rect x="461.1" y="369.2" width="2" height="3.7"/>
<rect x="424.9" y="373.6" width="2" height="3.7"/>
<rect x="454.4" y="374.5" width="2" height="3.7"/>
<rect x="428.5" y="375.8" width="2" height="3.7"/>
<rect x="477.1" y="377.9" width="2" height="3.7"/>
<rect x="474.9" y="379.0" width="2" height="3.7"/>
<rect x="429.6" y="381.2" width="2" height="3.7"/>
<rect x="468.5" y="384.3" width="2" height="3.7"/>
<rect x="472.7" y="385.6" width="2" height="3.7"/>
<rect x="454.0" y="385.9" width="2" height="3.7"/>
<rect x="459.8" y="385.9" width="2" height="3.7"/>
<rect x="481.5" y="385.9" width="2" height="3.7"/>
<rect x="428.0" y="388.1" width="2" height="3.7"/>
<rect x="442.5" y="390.2" width="2" height="3.7"/>
<rect x="453.6" y="390.2" width="2" height="3.7"/>
<rect x="454.9" y="392.0" width="2" height="3.7"/>
<rect x="471.3" y="393.1" width="2" height="3.7"/>
<rect x="435.3" y="394.9" width="2" height="3.7"/>
<rect x="431.8" y="398.2" width="2" height="3.7"/>
<rect x="504.9" y="399.3" width="2" height="3.7"/>
<rect x="475.3" y="400.0" width="2" height="3.7"/>
<rect x="483.6" y="400.8" width="2" height="3.7"/>
<rect x="454.9" y="401.1" width="2" height="3.7"/>
<rect x="443.6" y="401.6" width="2" height="3.7"/>
<rect x="467.3" y="403.1" width="2" height="3.7"/>
<rect x="444.5" y="403.6" width="2" height="3.7"/>
<rect x="459.1" y="404.0" width="2" height="3.7"/>
<rect x="445.8" y="404.8" width="2" height="3.7"/>
<rect x="486.2" y="405.3" width="2" height="3.7"/>
<rect x="451.6" y="407.6" width="2" height="3.7"/>
<rect x="445.8" y="408.9" width="2" height="3.7"/>
<rect x="438.0" y="410.0" width="2" height="3.7"/>
<rect x="436.2" y="411.1" width="2" height="3.7"/>
<rect x="461.6" y="411.6" width="2" height="3.7"/>
<rect x="433.5" y="412.8" width="2" height="3.7"/>
<rect x="471.6" y="414.0" width="2" height="3.7"/>
<rect x="447.1" y="415.3" width="2" height="3.7"/>
<rect x="456.7" y="416.8" width="2" height="3.7"/>
<rect x="490.0" y="418.8" width="2" height="3.7"/>
<rect x="491.3" y="421.6" width="2" height="3.7"/>
<rect x="461.8" y="422.0" width="2" height="3.7"/>
<rect x="481.3" y="424.4" width="2" height="3.7"/>
<rect x="517.3" y="428.2" width="2" height="3.7"/>
<rect x="484.0" y="429.5" width="2" height="3.7"/>
<rect x="481.3" y="430.9" width="2" height="3.7"/>
<rect x="450.7" y="432.2" width="2" height="3.7"/>
<rect x="455.8" y="433.6" width="2" height="3.7"/>
<rect x="501.8" y="433.1" width="2" height="3.7"/>
<rect x="475.5" y="434.9" width="2" height="3.7"/>
<rect x="461.3" y="435.6" width="2" height="3.7"/>
<rect x="478.2" y="435.6" width="2" height="3.7"/>
<rect x="476.7" y="436.4" width="2" height="3.7"/>
<rect x="452.2" y="437.1" width="2" height="3.7"/>
<rect x="453.5" y="438.0" width="2" height="3.7"/>
<rect x="463.6" y="438.0" width="2" height="3.7"/>
<rect x="460.4" y="438.9" width="2" height="3.7"/>
<rect x="464.5" y="440.4" width="2" height="3.7"/>
<rect x="445.8" y="441.1" width="2" height="3.7"/>
<rect x="471.3" y="441.6" width="2" height="3.7"/>
<rect x="445.5" y="444.0" width="2" height="3.7"/>
<rect x="455.3" y="445.5" width="2" height="3.7"/>
<rect x="463.1" y="448.0" width="2" height="3.7"/>
<rect x="517.6" y="448.0" width="2" height="3.7"/>
<rect x="459.8" y="451.1" width="2" height="3.7"/>
<rect x="446.4" y="458.2" width="2" height="3.7"/>
<rect x="462.7" y="459.3" width="2" height="3.7"/>
</svg>
</body></html>
